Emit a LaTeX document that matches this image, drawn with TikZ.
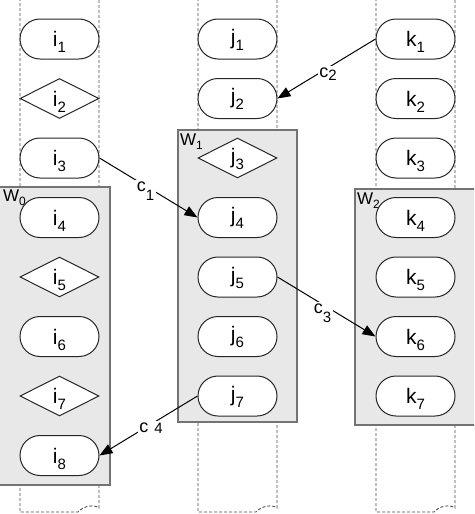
\documentclass[tikz,border=0pt]{standalone}
\usepackage{fontspec}
\setmainfont{Liberation Sans}
\usetikzlibrary{shapes.misc,shapes.geometric,arrows.meta}
\newcommand{\nsub}[1]{\raisebox{-6pt}[0pt][0pt]{\fontsize{15}{15}\selectfont #1}}
\newcommand{\wsub}[1]{\raisebox{-4pt}[0pt][0pt]{\fontsize{12}{12}\selectfont #1}}
\newcommand{\csub}[2]{\raisebox{#1}[0pt][0pt]{\fontsize{15}{15}\selectfont #2}}
\begin{document}
\begin{tikzpicture}[x=1pt,y=-1pt,
  col/.style={draw=black!70, dash pattern=on 3pt off 2pt, line width=0.9pt},
  win/.style={draw=black!55, fill=black!9, line width=1.3pt},
  stad/.style={rounded rectangle, draw=black!85, fill=white, line width=1pt,
    minimum width=79pt, minimum height=40pt, inner sep=0pt,
    font=\fontsize{21}{23}\selectfont},
  dia/.style={diamond, aspect=2, draw=black!85, fill=white, line width=1pt,
    minimum width=79pt, minimum height=40pt, inner sep=0pt,
    font=\fontsize{21}{23}\selectfont},
  conn/.style={draw=black, line width=1pt, -{Triangle[length=13pt,width=10pt]}},
  lab/.style={fill=white, inner sep=1.5pt, font=\fontsize{18}{18}\selectfont},
  wlab/.style={anchor=north west, inner sep=0pt, font=\fontsize{17}{17}\selectfont}]
\clip (0,0) rectangle (474,514);
\fill[white] (0,0) rectangle (474,514);
% dashed columns
\foreach \L in {20,198,376}{
  \draw[col] (\L,-2) -- (\L,512) -- (\L+58,512)
    .. controls (\L+63,506) and (\L+74,504) .. (\L+79,508) -- (\L+79,-2);
}
% windows
\draw[win] (-2,187) rectangle (110,485);
\draw[win] (178,130) rectangle (297,422);
\draw[win] (355,189) rectangle (477,425);
\node[wlab] (w0) at (3,190) {W\wsub{0}};
\node[wlab] (w1) at (180,134) {W\wsub{1}};
\node[wlab] (w2) at (357,193) {W\wsub{2}};
% column i
\node[stad] (i1) at (59.5,39) {i\nsub{1}};
\node[dia]  (i2) at (59.5,98.5) {i\nsub{2}};
\node[stad] (i3) at (59.5,158) {i\nsub{3}};
\node[stad] (i4) at (59.5,217.5) {i\nsub{4}};
\node[dia]  (i5) at (59.5,277) {i\nsub{5}};
\node[stad] (i6) at (59.5,336.5) {i\nsub{6}};
\node[dia]  (i7) at (59.5,396) {i\nsub{7}};
\node[stad] (i8) at (59.5,455.5) {i\nsub{8}};
% column j
\node[stad] (j1) at (237.5,39) {j\nsub{1}};
\node[stad] (j2) at (237.5,98.5) {j\nsub{2}};
\node[dia]  (j3) at (237.5,158) {j\nsub{3}};
\node[stad] (j4) at (237.5,217.5) {j\nsub{4}};
\node[stad] (j5) at (237.5,277) {j\nsub{5}};
\node[stad] (j6) at (237.5,336.5) {j\nsub{6}};
\node[stad] (j7) at (237.5,396) {j\nsub{7}};
% column k
\node[stad] (k1) at (415.5,39) {k\nsub{1}};
\node[stad] (k2) at (415.5,98.5) {k\nsub{2}};
\node[stad] (k3) at (415.5,158) {k\nsub{3}};
\node[stad] (k4) at (415.5,217.5) {k\nsub{4}};
\node[stad] (k5) at (415.5,277) {k\nsub{5}};
\node[stad] (k6) at (415.5,336.5) {k\nsub{6}};
\node[stad] (k7) at (415.5,396) {k\nsub{7}};
% connectors
\draw[conn] (i3.east) -- node[lab, xshift=-3pt, yshift=1pt] {c\csub{-9pt}{1}} (j4.west);
\draw[conn] (k1.west) -- node[lab, xshift=1.5pt, yshift=-4pt] {c\csub{-3pt}{2}} (j2.east);
\draw[conn] (j5.east) -- node[lab, xshift=-4pt, yshift=-2pt] {c\csub{-9pt}{3}} (k6.west);
\draw[conn] (j7.west) -- node[lab, xshift=2.5pt, yshift=-1.5pt] {c\hspace{6pt}\csub{-1pt}{4}} (i8.east);
\end{tikzpicture}
\end{document}
